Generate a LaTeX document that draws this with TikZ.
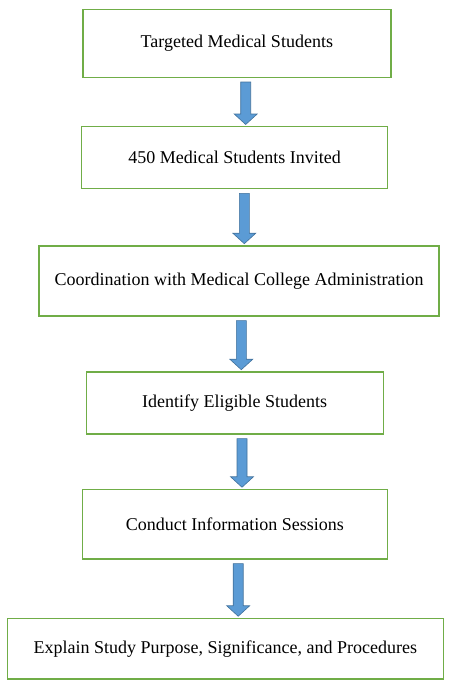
\documentclass[tikz,border=0pt]{standalone}
\usepackage{fontspec}
\setmainfont{Liberation Serif}
\usetikzlibrary{calc}
\definecolor{boxgreen}{RGB}{112,173,71}
\definecolor{arrowfill}{RGB}{91,155,213}
\definecolor{arrowedge}{RGB}{65,113,156}

\begin{document}
\begin{tikzpicture}
  [x=1pt,y=-1pt,
   step box/.style={rectangle,draw=boxgreen,line width=1.4pt,fill=white,inner sep=0pt,
     font=\fontsize{18}{21}\selectfont},
   block arrow/.style={draw=arrowedge,fill=arrowfill,line width=0.6pt,
     to path={let \p1=(\tikztostart), \p2=(\tikztotarget) in
       (\x1-5pt,\y1-4pt) -- (\x1+5pt,\y1-4pt) -- (\x1+5pt,\y2+12pt)
       -- (\x1+11.5pt,\y2+12pt) -- (\x1,\y2+1.5pt) -- (\x1-11.5pt,\y2+12pt)
       -- (\x1-5pt,\y2+12pt) -- cycle}}]

  \useasboundingbox (0,0) rectangle (449,685);

  % steps
  \node [step box,minimum width=308pt,minimum height=68pt]   (target)   at (236.8,43.3)  {Targeted Medical Students};
  \node [step box,minimum width=306pt,minimum height=62pt]   (invited)  at (234.5,157.7) {450 Medical Students Invited};
  \node [step box,minimum width=400pt,minimum height=70pt]   (coord)    at (239,280.9)   {Coordination with Medical College Administration};
  \node [step box,minimum width=297pt,minimum height=62pt]   (eligible) at (234.7,402.9) {Identify Eligible Students};
  \node [step box,minimum width=305pt,minimum height=69.5pt] (sessions) at (234.8,524.2) {Conduct Information Sessions};
  \node [step box,minimum width=436pt,minimum height=60.5pt] (explain)  at (225.3,648.7) {Explain Study Purpose, Significance, and Procedures};

  % arrows
  \draw [block arrow] (target.south -| 245.7,0)   to (invited.north -| 245.7,0);
  \draw [block arrow] (invited.south -| 244.3,0)  to (coord.north -| 244.3,0);
  \draw [block arrow] (coord.south -| 241.3,0)    to (eligible.north -| 241.3,0);
  \draw [block arrow] (eligible.south -| 242,0)   to (sessions.north -| 242,0);
  \draw [block arrow] (sessions.south -| 238.2,0) to (explain.north -| 238.2,0);

\end{tikzpicture}
\end{document}
